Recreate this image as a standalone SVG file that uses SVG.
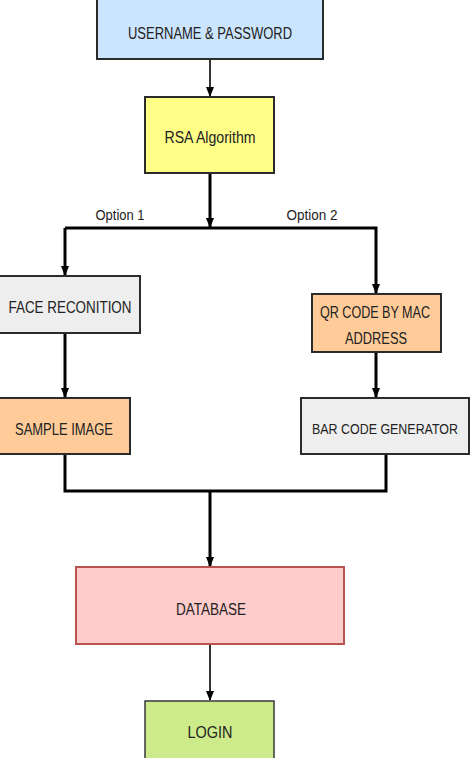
<svg xmlns="http://www.w3.org/2000/svg" width="474" height="758" viewBox="0 0 474 758">
<style>
.box{stroke:#2b2b2b;stroke-width:2}
.t{font-family:"Liberation Sans",Arial,sans-serif;font-size:16px;fill:#222;text-anchor:middle}
.lbl{font-family:"Liberation Sans",Arial,sans-serif;font-size:14px;fill:#222;text-anchor:middle}
.c{fill:none;stroke:#000;stroke-width:3}
.ct{fill:none;stroke:#000;stroke-width:1.6}
</style>
<defs>
<marker id="ah" markerUnits="userSpaceOnUse" viewBox="0 0 10 10" refX="9" refY="5" markerWidth="10" markerHeight="10" orient="auto">
<path d="M0,1 L10,5 L0,9 Z" fill="#000"/>
</marker>
</defs>
<rect width="474" height="758" fill="#fff"/>
<g id="connectors">
<line class="ct" x1="210" y1="59" x2="210" y2="96" marker-end="url(#ah)"/>
<line class="c" x1="210" y1="173" x2="210" y2="227" marker-end="url(#ah)"/>
<polyline class="c" points="65,228 376,228 376,293" marker-end="url(#ah)"/>
<polyline class="c" points="65,228 65,275" marker-end="url(#ah)"/>
<line class="c" x1="65" y1="333" x2="65" y2="397" marker-end="url(#ah)"/>
<line class="c" x1="376" y1="352" x2="376" y2="397" marker-end="url(#ah)"/>
<polyline class="c" points="65,454 65,491 386,491 386,454"/>
<line class="c" x1="210" y1="491" x2="210" y2="566" marker-end="url(#ah)"/>
<line class="ct" x1="210" y1="644" x2="210" y2="700" marker-end="url(#ah)"/>
<text class="lbl" x="120" y="220" textLength="49" lengthAdjust="spacingAndGlyphs">Option 1</text>
<text class="lbl" x="312" y="220" textLength="51" lengthAdjust="spacingAndGlyphs">Option 2</text>
</g>
<g id="username">
<rect class="box" x="97" y="-2" width="226" height="61" fill="#cce5ff"/>
<text class="t" x="210" y="39" textLength="164" lengthAdjust="spacingAndGlyphs">USERNAME &amp; PASSWORD</text>
</g>
<g id="rsa">
<rect class="box" x="145" y="97" width="129" height="76" fill="#ffff88"/>
<text class="t" x="210" y="143" textLength="91" lengthAdjust="spacingAndGlyphs">RSA Algorithm</text>
</g>
<g id="face">
<rect class="box" x="-1" y="276" width="141" height="57" fill="#eeeeee"/>
<text class="t" x="70" y="313" textLength="123" lengthAdjust="spacingAndGlyphs">FACE RECONITION</text>
</g>
<g id="qr">
<rect class="box" x="312" y="294" width="129" height="58" fill="#ffcc99"/>
<text class="t" x="375" y="318" textLength="110" lengthAdjust="spacingAndGlyphs">QR CODE BY MAC</text>
<text class="t" x="376" y="344" textLength="62" lengthAdjust="spacingAndGlyphs">ADDRESS</text>
</g>
<g id="sample">
<rect class="box" x="-1" y="398" width="131" height="56" fill="#ffcc99"/>
<text class="t" x="64" y="435" textLength="98" lengthAdjust="spacingAndGlyphs">SAMPLE IMAGE</text>
</g>
<g id="barcode">
<rect class="box" x="301" y="398" width="168" height="56" fill="#eeeeee"/>
<text class="t" x="385" y="434" style="font-size:15px" textLength="146" lengthAdjust="spacingAndGlyphs">BAR CODE GENERATOR</text>
</g>
<g id="database">
<rect x="76" y="567" width="268" height="77" fill="#ffcccc" stroke="#b85450" stroke-width="2"/>
<text class="t" x="211" y="615" textLength="70" lengthAdjust="spacingAndGlyphs">DATABASE</text>
</g>
<g id="login">
<rect x="145" y="701" width="129" height="62" fill="#cdeb8b" stroke="#36393d" stroke-width="1.5"/>
<text class="t" x="210" y="738" textLength="45" lengthAdjust="spacingAndGlyphs">LOGIN</text>
</g>
</svg>
